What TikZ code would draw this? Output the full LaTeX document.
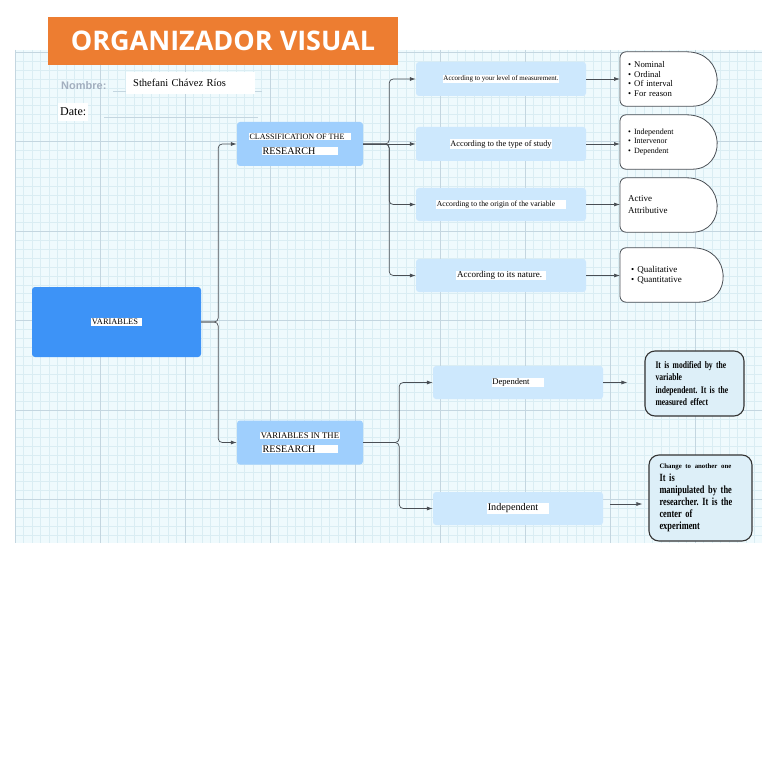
\documentclass[tikz,border=0pt]{standalone}
\usepackage{fontspec}
\setmainfont{Liberation Serif}
\newfontfamily\titlefont{Open Sans}
\newfontfamily\labelfont{Liberation Sans}
\newfontfamily\notefont[FakeStretch=0.76,WordSpace=0.6]{Liberation Serif}
\usetikzlibrary{positioning,calc,arrows.meta,backgrounds}

\definecolor{gridbg}{HTML}{EFFAFD}
\definecolor{gridminor}{HTML}{DAEDF3}
\definecolor{gridmajor}{HTML}{C4D6E0}
\definecolor{titleorange}{HTML}{ED7D31}
\definecolor{varblue}{HTML}{3D93F7}
\definecolor{midblue}{HTML}{9FCFFD}
\definecolor{paleblue}{HTML}{CDE8FD}
\definecolor{notefill}{HTML}{DDEFF8}
\definecolor{linkgray}{HTML}{4A4F55}
\definecolor{namegray}{HTML}{A3AFBF}

\newcommand{\hl}[2][0pt]{{\setlength{\fboxsep}{0.7pt}\colorbox{white}{#2\hspace*{#1}}}}
\newcommand{\fs}[2]{\fontsize{#1}{#2}\selectfont}
\frenchspacing

\begin{document}
\begin{tikzpicture}[x=1pt,y=-1pt,
  titlebox/.style={fill=titleorange, text=white, font=\titlefont\bfseries\fs{27}{30},
    minimum width=350pt, minimum height=48pt, inner sep=0pt},
  rootbox/.style={fill=varblue, rounded corners=3pt, minimum width=169pt,
    minimum height=70pt, inner sep=0pt},
  groupbox/.style={fill=midblue, rounded corners=3pt, minimum width=126pt,
    minimum height=44pt, align=center, inner sep=0pt},
  askbox/.style={fill=paleblue, rounded corners=3pt, minimum width=170pt,
    minimum height=34pt, inner sep=0pt},
  dbox/.style={anchor=west, minimum width=94pt, minimum height=54pt,
    text width=80pt, align=left, inner xsep=8pt, inner ysep=0pt},
  dline/.style={draw=linkgray, line width=0.8pt, fill=white},
  notebox/.style={draw=black!80, line width=1.1pt, fill=notefill, rounded corners=10pt,
    align=left, inner xsep=10.5pt, font=\notefont\bfseries\fs{10}{12.5}},
  link/.style={draw=linkgray, line width=0.7pt, rounded corners=4pt,
    -{Latex[length=6pt,width=4pt]}},
  uline/.style={draw=gridmajor, line width=0.8pt}
]
\useasboundingbox (0,0) rectangle (768,762);

% squared paper
\begin{scope}[on background layer]
\fill[gridbg] (15,50) rectangle (762,543);
\foreach \i in {0,...,87}
  \draw[gridminor, line width=0.4pt] ({15+8.5*\i},50) -- ({15+8.5*\i},543);
\foreach \j in {0,...,54}
  \draw[gridminor, line width=0.4pt] (15,{52+8.95*\j}) -- (762,{52+8.95*\j});
\foreach \i in {0,...,8}
  \draw[gridmajor, line width=0.6pt] ({15+85*\i},50) -- ({15+85*\i},543);
\foreach \j in {0,...,5}
  \draw[gridmajor, line width=0.6pt] (15,{52+89.5*\j}) -- (762,{52+89.5*\j});
\end{scope}

% heading
\node[titlebox] (title) at (223,41) {ORGANIZADOR VISUAL};
\node[anchor=west, font=\labelfont\bfseries\fs{11}{13}, text=namegray, inner sep=0pt]
  (nombre) at (61,86) {Nombre:};
\draw[uline] (113,91) -- (262,91);
\node[anchor=west, fill=white, text width=115pt, inner xsep=7pt, minimum height=22pt,
  align=left, font=\fs{10.5}{12}] (name) at (126,83) {Sthefani Chávez Ríos};
\draw[uline] (104,117) -- (258,117);
\node[anchor=west, fill=white, inner xsep=2pt, minimum height=18pt, font=\fs{12}{14}]
  (date) at (58,112) {Date:};

% main boxes
\node[rootbox] (var) at (116.5,322) {\fs{8.4}{10}\hl[3pt]{VARIABLES}};
\node[groupbox] (cls) at (300,144)
  {\fs{8.1}{10}\hl[6pt]{CLASSIFICATION OF THE}\\[3pt]\fs{10.1}{12}\hl[22pt]{RESEARCH}};
\node[groupbox] (vir) at (300,442.5)
  {\fs{8.7}{10}\hl{VARIABLES IN THE}\\[2pt]\fs{10.1}{12}\hl[22pt]{RESEARCH}};

% questions
\node[askbox] (lv1) at (501,79) {\fs{7}{8}\hl{According to your level of measurement.}};
\node[askbox] (lv2) at (501,144) {\fs{8.3}{9}\hl{According to the type of study}};
\node[askbox, minimum height=33pt] (lv3) at (501,204.5)
  {\fs{7.7}{9}\hl[10pt]{According to the origin of the variable}};
\node[askbox, minimum height=33pt] (lv4) at (501,275.5)
  {\fs{9}{10}\hl[3pt]{According to its nature.}};
\node[askbox, minimum height=33pt] (dep) at (518,382.5) {\fs{8.6}{10}\hl[14pt]{Dependent}};
\node[askbox, minimum height=33pt] (ind) at (518,508.5) {\fs{10.2}{11}\hl[10pt]{Independent}};

% answers
\node[dbox, font=\fs{8.7}{9.7}] (r1) at (620,79)
  {\textbullet\hspace{3pt}Nominal\\\textbullet\hspace{3pt}Ordinal\\
   \textbullet\hspace{3pt}Of interval\\\textbullet\hspace{3pt}For reason};
\node[dbox, font=\fs{8}{9.3}] (r2) at (620,142)
  {\textbullet\hspace{3pt}Independent\\\textbullet\hspace{3pt}Intervenor\\
   \textbullet\hspace{3pt}Dependent};
\node[dbox, font=\fs{9}{12}] (r3) at (620,205) {Active\\Attributive};
\node[dbox, font=\fs{9}{10}, minimum width=102pt, inner xsep=9pt] (r4) at (620,275)
  {\textbullet\hspace{3pt}Qualitative\\\textbullet\hspace{3pt}Quantitative};
\begin{scope}[on background layer]
\foreach \n in {r1,r2,r3,r4}
  \draw[dline] ($(\n.north east)+(-30,0)$) [rounded corners=6pt] -- (\n.north west)
    -- (\n.south west) -- ($(\n.south east)+(-30,0)$) [sharp corners]
    .. controls +(40,0) and +(40,0) .. ($(\n.north east)+(-30,0)$);
\end{scope}
\node[notebox, text width=78pt, minimum height=65pt] (b1) at (694.5,383.5)
  {It is modified by the\\variable\\independent. It is the\\measured effect};
\node[notebox, text width=82pt, minimum height=86pt, font=\notefont\bfseries\fs{11}{12}]
  (b2) at (700.5,498)
  {{\rmfamily\bfseries\fs{6.8}{8}Change to another one}\\[1pt]It is\\manipulated by the\\
   researcher. It is the\\center of\\experiment};

% connectors
\coordinate (j1) at ($(var.east)+(17,0)$);
\coordinate (j2) at ($(cls.east)+(26,0)$);
\coordinate (j3) at ($(vir.east)+(36,0)$);
\draw[link] (var.east) -- (j1) |- (cls.west);
\draw[link] (var.east) -- (j1) |- (vir.west);
\draw[link] (cls.east) -- (lv2.west);
\foreach \n in {lv1,lv3,lv4}
  \draw[link] (cls.east) -- (j2) |- (\n.west);
\draw[link] (vir.east) -- (j3) |- (dep.west);
\draw[link] (vir.east) -- (j3) |- (ind.west);
\foreach \a/\b in {lv1/r1,lv2/r2,lv3/r3,lv4/r4}
  \draw[link] (\a.east) -- (\a.east -| \b.west);
\draw[link, shorten >=17pt] (dep.east) -- (dep.east -| b1.west);
\coordinate (ia) at ([xshift=7pt,yshift=4.5pt]ind.east);
\draw[link, shorten >=6pt] (ia) -- (ia -| b2.west);
\end{tikzpicture}
\end{document}
